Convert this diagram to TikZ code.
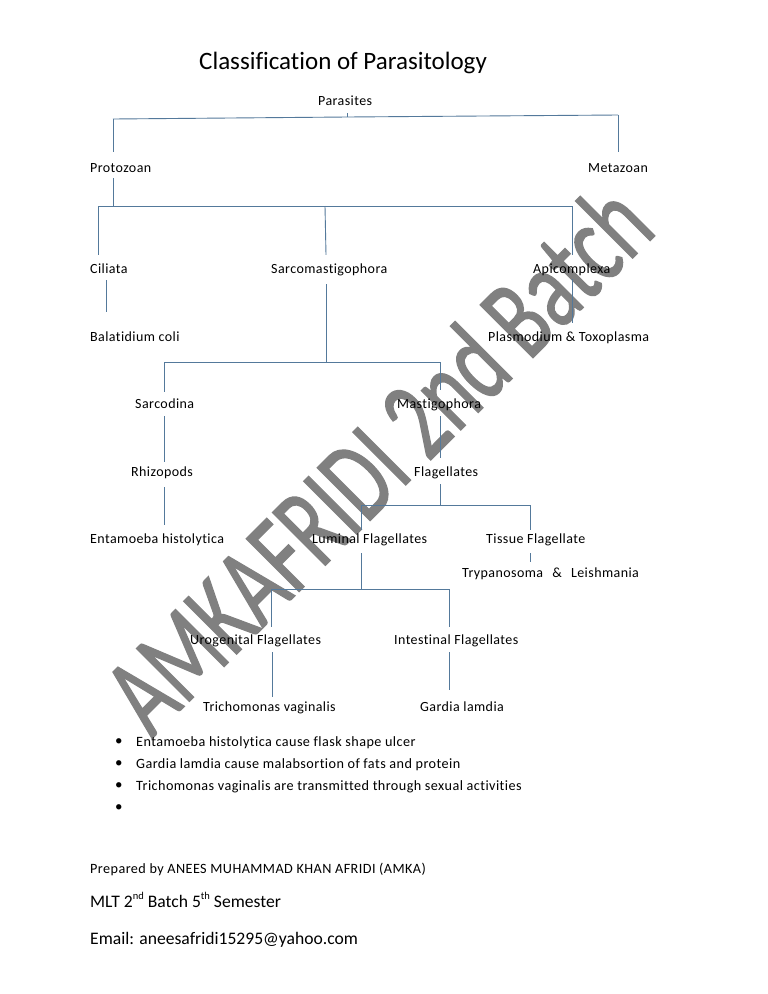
\documentclass[tikz,border=0pt]{standalone}
\usepackage{fontspec}
\setmainfont[Ligatures=NoCommon]{Carlito}
\newfontfamily\lsfont[LetterSpace=3,Ligatures=NoCommon]{Carlito}
\newfontfamily\wmfont[FakeBold=1.3]{Carlito}
\newcommand{\supr}[1]{\raisebox{0.42em}{\fontsize{10.5}{11}\selectfont #1}}
\definecolor{conn}{HTML}{54799B}
\definecolor{wm}{HTML}{808080}
\tikzset{
  lbl/.style={anchor=west,inner xsep=0pt,inner ysep=6pt,text height=12pt,text depth=2pt,font=\lsfont\fontsize{14}{16}\selectfont,text=black},
  plain/.style={anchor=west,inner sep=0pt,text=black},
  body/.style={plain,font=\lsfont\fontsize{14.2}{16}\selectfont},
  foot/.style={plain,font=\fontsize{17.6}{20}\selectfont}
}
\tikzset{conn/.style={draw=conn,line width=0.9pt}}
\begin{document}
\begin{tikzpicture}[x=1pt,y=-1pt]
\useasboundingbox (0,0) rectangle (768,994);
\fill[white] (0,0) rectangle (768,994);
% watermark
\node[rotate=45,anchor=base,text=wm,inner sep=0pt,font=\wmfont\fontsize{116}{120}\selectfont] (wmark) at (405,485.5) {\scalebox{0.69}[1]{AMKAFRIDI 2nd Batch}};
% title
\node[plain,font=\fontsize{25}{28}\selectfont] (title) at (199,63) {Classification of Parasitology};
% nodes
\node[lbl] (parasites) at (318,100) {Parasites};
\node[lbl] (protozoan) at (90,167) {Protozoan};
\node[lbl] (metazoan) at (588,167) {Metazoan};
\node[lbl] (ciliata) at (90,268) {Ciliata};
\node[lbl] (sarcomast) at (271,268) {Sarcomastigophora};
\node[lbl] (apicomplexa) at (533,268) {Apicomplexa};
\node[lbl] (balatidium) at (90,336) {Balatidium coli};
\node[lbl] (plasmodium) at (488,336) {Plasmodium \& Toxoplasma};
\node[lbl] (sarcodina) at (135,403) {Sarcodina};
\node[lbl] (mastigophora) at (397,403) {Mastigophora};
\node[lbl] (rhizopods) at (131,471) {Rhizopods};
\node[lbl] (flagellates) at (414,471) {Flagellates};
\node[lbl] (entamoeba) at (90,538) {Entamoeba histolytica};
\node[lbl] (luminal) at (312,538) {Luminal Flagellates};
\node[lbl] (tissue) at (486,538) {Tissue Flagellate};
\node[lbl] (trypanosoma) at (462,572) {Trypanosoma\ \ \hspace{2pt}\&\ \ \hspace{2pt}Leishmania};
\node[lbl] (urogenital) at (190,639) {Urogenital Flagellates};
\node[lbl] (intestinal) at (394,639) {Intestinal Flagellates};
\node[lbl] (trichomonas) at (203,706) {Trichomonas vaginalis};
\node[lbl] (gardia) at (420,706) {Gardia lamdia};
% junctions
\coordinate (b1m) at (347,117);
\coordinate (b1l) at (113,119);
\coordinate (b1r) at (618,115);
\coordinate (b2p) at (113,206);
\coordinate (b2l) at (98,206);
\coordinate (b2m) at (325,206);
\coordinate (b2r) at (572,206);
\coordinate (cil) at (106,280);
\coordinate (sar) at (326,362);
\coordinate (b3l) at (164,362);
\coordinate (b3r) at (440,362);
\coordinate (fla) at (440,505);
\coordinate (b4l) at (361,505);
\coordinate (b4r) at (530,505);
\coordinate (lum) at (361,589);
\coordinate (b5l) at (271,589);
\coordinate (b5r) at (449,589);
\coordinate (uro) at (272,652);
% connectors
\draw[conn] (b1l) -- (b1m) -- (b1r);
\draw[conn] (b1m) -- (b1m |- parasites.south);
\draw[conn,shorten >=2pt] (b1l) -- (b1l |- protozoan.north);
\draw[conn,shorten >=2pt] (b1r) -- (b1r |- metazoan.north);
\draw[conn,shorten <=-2pt] (b2p |- protozoan.south) -- (b2p);
\draw[conn] (b2l) -- (b2r);
\draw[conn] (b2l) -- (b2l |- ciliata.north);
\draw[conn] (b2m) -- (sar |- sarcomast.north);
\draw[conn] (b2r) -- (b2r |- apicomplexa.north);
\draw[conn,shorten <=-2pt] (b2r |- apicomplexa.south) -- (b2r |- plasmodium.north);
\draw[conn,shorten <=-1pt,shorten >=11pt] (cil |- ciliata.south) -- (cil |- balatidium.north);
\draw[conn,shorten <=3pt] (sar |- sarcomast.south) -- (sar);
\draw[conn] (b3l) -- (b3r);
\draw[conn,shorten >=-2pt] (b3l) -- (b3l |- sarcodina.north);
\draw[conn] (b3r) -- (b3r |- mastigophora.north);
\draw[conn,shorten >=-4pt] (b3l |- sarcodina.south) -- (b3l |- rhizopods.north);
\draw[conn,shorten <=3pt] (b3l |- rhizopods.south) -- (b3l |- entamoeba.north);
\draw[conn] (b3r |- mastigophora.south) -- (b3r |- flagellates.north);
\draw[conn] (fla |- flagellates.south) -- (fla);
\draw[conn] (b4l) -- (b4r);
\draw[conn,shorten >=-5pt] (b4l) -- (b4l |- luminal.north);
\draw[conn,shorten >=-5pt] (b4r) -- (b4r |- tissue.north);
\draw[conn,shorten <=2pt,shorten >=-3pt] (b4r |- tissue.south) -- (b4r |- trypanosoma.north);
\draw[conn,shorten <=2pt] (lum |- luminal.south) -- (lum);
\draw[conn] (b5l) -- (b5r);
\draw[conn,shorten >=-1pt] (b5l) -- (b5l |- urogenital.north);
\draw[conn,shorten >=-1pt] (b5r) -- (b5r |- intestinal.north);
\draw[conn,shorten >=-4pt] (uro |- urogenital.south) -- (uro |- trichomonas.north);
\draw[conn,shorten >=3pt] (b5r |- intestinal.south) -- (b5r |- gardia.north);
% bullets
\foreach \n/\y in {a/742,b/764,c/786,d/808}{
  \node[plain,font=\fontsize{15}{16}\selectfont] (bul\n) at (115,\y) {•};
}
\node[body] (t1) at (136,743) {Entamoeba histolytica cause flask shape ulcer};
\node[body] (t2) at (136,765) {Gardia lamdia cause malabsortion of fats and protein};
\node[body] (t3) at (136,787) {Trichomonas vaginalis are transmitted through sexual activities};
% footer
\node[body] (prep) at (90,869) {Prepared by ANEES MUHAMMAD KHAN AFRIDI (AMKA)};
\node[foot] (mlt) at (90,900) {MLT 2\supr{nd} Batch 5\supr{th} Semester};
\node[foot] (email) at (90,940) {Email: aneesafridi15295@yahoo.com};
\end{tikzpicture}
\end{document}
